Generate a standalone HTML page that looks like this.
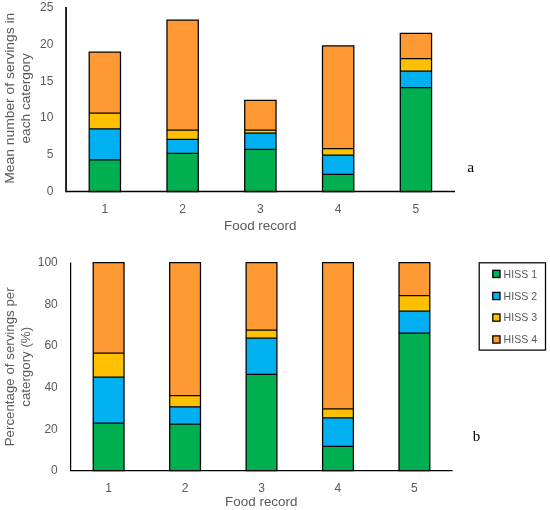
<!DOCTYPE html>
<html lang="en"><head><meta charset="utf-8"><title>Food record charts</title>
<style>
html,body{margin:0;padding:0;background:#fff;}
body{width:550px;height:510px;overflow:hidden;}
svg{display:block;}
text{font-family:"Liberation Sans",Arial,sans-serif;fill:#595959;}
.tk{font-size:12px;}
.tt{font-size:12.8px;}
.lg{font-size:11px;}
.sf{font-family:"Liberation Serif","Times New Roman",serif;font-size:14.5px;fill:#000;}
</style></head><body>
<svg width="550" height="510" viewBox="0 0 550 510">
<rect width="550" height="510" fill="#fff"/>
<rect x="89.20" y="52.20" width="31.30" height="60.80" fill="#FF9933"/>
<rect x="89.20" y="113.00" width="31.30" height="15.80" fill="#FFC000"/>
<rect x="89.20" y="128.80" width="31.30" height="31.00" fill="#00B0F0"/>
<rect x="89.20" y="159.80" width="31.30" height="31.70" fill="#00B050"/>
<path d="M89.20 52.20h31.30V191.50h-31.30ZM89.20 113.00h31.30M89.20 128.80h31.30M89.20 159.80h31.30" fill="none" stroke="#000" stroke-width="1.25" stroke-linejoin="miter"/>
<rect x="166.97" y="20.20" width="31.30" height="109.80" fill="#FF9933"/>
<rect x="166.97" y="130.00" width="31.30" height="9.40" fill="#FFC000"/>
<rect x="166.97" y="139.40" width="31.30" height="14.00" fill="#00B0F0"/>
<rect x="166.97" y="153.40" width="31.30" height="38.10" fill="#00B050"/>
<path d="M166.97 20.20h31.30V191.50h-31.30ZM166.97 130.00h31.30M166.97 139.40h31.30M166.97 153.40h31.30" fill="none" stroke="#000" stroke-width="1.25" stroke-linejoin="miter"/>
<rect x="244.74" y="100.40" width="31.30" height="29.60" fill="#FF9933"/>
<rect x="244.74" y="130.00" width="31.30" height="3.20" fill="#FFC000"/>
<rect x="244.74" y="133.20" width="31.30" height="16.20" fill="#00B0F0"/>
<rect x="244.74" y="149.40" width="31.30" height="42.10" fill="#00B050"/>
<path d="M244.74 100.40h31.30V191.50h-31.30ZM244.74 130.00h31.30M244.74 133.20h31.30M244.74 149.40h31.30" fill="none" stroke="#000" stroke-width="1.25" stroke-linejoin="miter"/>
<rect x="322.51" y="45.90" width="31.30" height="102.70" fill="#FF9933"/>
<rect x="322.51" y="148.60" width="31.30" height="6.40" fill="#FFC000"/>
<rect x="322.51" y="155.00" width="31.30" height="19.40" fill="#00B0F0"/>
<rect x="322.51" y="174.40" width="31.30" height="17.10" fill="#00B050"/>
<path d="M322.51 45.90h31.30V191.50h-31.30ZM322.51 148.60h31.30M322.51 155.00h31.30M322.51 174.40h31.30" fill="none" stroke="#000" stroke-width="1.25" stroke-linejoin="miter"/>
<rect x="400.28" y="33.40" width="31.30" height="25.30" fill="#FF9933"/>
<rect x="400.28" y="58.70" width="31.30" height="12.50" fill="#FFC000"/>
<rect x="400.28" y="71.20" width="31.30" height="16.30" fill="#00B0F0"/>
<rect x="400.28" y="87.50" width="31.30" height="104.00" fill="#00B050"/>
<path d="M400.28 33.40h31.30V191.50h-31.30ZM400.28 58.70h31.30M400.28 71.20h31.30M400.28 87.50h31.30" fill="none" stroke="#000" stroke-width="1.25" stroke-linejoin="miter"/>
<path d="M66.05 7.0V192.15" fill="none" stroke="#000" stroke-width="1.7"/>
<path d="M66.05 191.5H455.0" fill="none" stroke="#000" stroke-width="1.3"/>
<text class="tk" x="53.4" y="195" text-anchor="end">0</text>
<text class="tk" x="53.4" y="158" text-anchor="end">5</text>
<text class="tk" x="53.4" y="121" text-anchor="end">10</text>
<text class="tk" x="53.4" y="85" text-anchor="end">15</text>
<text class="tk" x="53.4" y="48" text-anchor="end">20</text>
<text class="tk" x="53.4" y="11" text-anchor="end">25</text>
<text class="tk" x="104.85" y="213" text-anchor="middle">1</text>
<text class="tk" x="182.62" y="213" text-anchor="middle">2</text>
<text class="tk" x="260.39" y="213" text-anchor="middle">3</text>
<text class="tk" x="338.16" y="213" text-anchor="middle">4</text>
<text class="tk" x="415.93" y="213" text-anchor="middle">5</text>
<text class="tt" x="260.2" y="229.9" text-anchor="middle" textLength="72.4" lengthAdjust="spacingAndGlyphs">Food record</text>
<text class="tt" transform="translate(14.4 98.3) rotate(-90)" text-anchor="middle" textLength="171" lengthAdjust="spacingAndGlyphs">Mean number of servings in</text>
<text class="tt" transform="translate(30.4 98.3) rotate(-90)" text-anchor="middle" textLength="90.5" lengthAdjust="spacingAndGlyphs">each catergory</text>
<text class="sf" x="467.2" y="171.6" textLength="6.95" lengthAdjust="spacingAndGlyphs">a</text>
<rect x="93.22" y="262.65" width="30.80" height="90.55" fill="#FF9933"/>
<rect x="93.22" y="353.20" width="30.80" height="23.80" fill="#FFC000"/>
<rect x="93.22" y="377.00" width="30.80" height="46.20" fill="#00B0F0"/>
<rect x="93.22" y="423.20" width="30.80" height="47.50" fill="#00B050"/>
<path d="M93.22 262.65h30.80V470.70h-30.80ZM93.22 353.20h30.80M93.22 377.00h30.80M93.22 423.20h30.80" fill="none" stroke="#000" stroke-width="1.25" stroke-linejoin="miter"/>
<rect x="169.67" y="262.65" width="30.80" height="133.00" fill="#FF9933"/>
<rect x="169.67" y="395.65" width="30.80" height="11.25" fill="#FFC000"/>
<rect x="169.67" y="406.90" width="30.80" height="17.30" fill="#00B0F0"/>
<rect x="169.67" y="424.20" width="30.80" height="46.50" fill="#00B050"/>
<path d="M169.67 262.65h30.80V470.70h-30.80ZM169.67 395.65h30.80M169.67 406.90h30.80M169.67 424.20h30.80" fill="none" stroke="#000" stroke-width="1.25" stroke-linejoin="miter"/>
<rect x="246.12" y="262.65" width="30.80" height="67.35" fill="#FF9933"/>
<rect x="246.12" y="330.00" width="30.80" height="8.10" fill="#FFC000"/>
<rect x="246.12" y="338.10" width="30.80" height="36.30" fill="#00B0F0"/>
<rect x="246.12" y="374.40" width="30.80" height="96.30" fill="#00B050"/>
<path d="M246.12 262.65h30.80V470.70h-30.80ZM246.12 330.00h30.80M246.12 338.10h30.80M246.12 374.40h30.80" fill="none" stroke="#000" stroke-width="1.25" stroke-linejoin="miter"/>
<rect x="322.57" y="262.65" width="30.80" height="146.25" fill="#FF9933"/>
<rect x="322.57" y="408.90" width="30.80" height="8.90" fill="#FFC000"/>
<rect x="322.57" y="417.80" width="30.80" height="28.60" fill="#00B0F0"/>
<rect x="322.57" y="446.40" width="30.80" height="24.30" fill="#00B050"/>
<path d="M322.57 262.65h30.80V470.70h-30.80ZM322.57 408.90h30.80M322.57 417.80h30.80M322.57 446.40h30.80" fill="none" stroke="#000" stroke-width="1.25" stroke-linejoin="miter"/>
<rect x="399.02" y="262.65" width="30.80" height="32.95" fill="#FF9933"/>
<rect x="399.02" y="295.60" width="30.80" height="15.60" fill="#FFC000"/>
<rect x="399.02" y="311.20" width="30.80" height="21.80" fill="#00B0F0"/>
<rect x="399.02" y="333.00" width="30.80" height="137.70" fill="#00B050"/>
<path d="M399.02 262.65h30.80V470.70h-30.80ZM399.02 295.60h30.80M399.02 311.20h30.80M399.02 333.00h30.80" fill="none" stroke="#000" stroke-width="1.25" stroke-linejoin="miter"/>
<path d="M70.6 262.4V470.7H452.6" fill="none" stroke="#000" stroke-width="1.25" stroke-linecap="butt"/>
<text class="tk" x="57.8" y="474" text-anchor="end">0</text>
<text class="tk" x="57.8" y="433" text-anchor="end">20</text>
<text class="tk" x="57.8" y="391" text-anchor="end">40</text>
<text class="tk" x="57.8" y="349" text-anchor="end">60</text>
<text class="tk" x="57.8" y="308" text-anchor="end">80</text>
<text class="tk" x="57.8" y="266" text-anchor="end">100</text>
<text class="tk" x="108.60" y="492" text-anchor="middle">1</text>
<text class="tk" x="185.05" y="492" text-anchor="middle">2</text>
<text class="tk" x="261.50" y="492" text-anchor="middle">3</text>
<text class="tk" x="337.95" y="492" text-anchor="middle">4</text>
<text class="tk" x="414.40" y="492" text-anchor="middle">5</text>
<text class="tt" x="261.3" y="506.4" text-anchor="middle" textLength="72.4" lengthAdjust="spacingAndGlyphs">Food record</text>
<text class="tt" transform="translate(14.3 366.8) rotate(-90)" text-anchor="middle" textLength="159" lengthAdjust="spacingAndGlyphs">Percentage of servings per</text>
<text class="tt" transform="translate(29.6 366.8) rotate(-90)" text-anchor="middle" textLength="79.8" lengthAdjust="spacingAndGlyphs">catergory (%)</text>
<text class="sf" x="472.7" y="441.0" textLength="7.5" lengthAdjust="spacingAndGlyphs">b</text>
<rect x="479.2" y="262.8" width="66.3" height="87.3" fill="#fff" stroke="#000" stroke-width="1.25"/>
<rect x="492.8" y="270.30" width="7.2" height="7.2" fill="#00B050" stroke="#000" stroke-width="1.3"/>
<text class="lg" x="503.6" y="278" textLength="33.5" lengthAdjust="spacingAndGlyphs">HISS 1</text>
<rect x="492.8" y="292.40" width="7.2" height="7.2" fill="#00B0F0" stroke="#000" stroke-width="1.3"/>
<text class="lg" x="503.6" y="300" textLength="33.5" lengthAdjust="spacingAndGlyphs">HISS 2</text>
<rect x="492.8" y="314.00" width="7.2" height="7.2" fill="#FFC000" stroke="#000" stroke-width="1.3"/>
<text class="lg" x="503.6" y="321" textLength="33.5" lengthAdjust="spacingAndGlyphs">HISS 3</text>
<rect x="492.8" y="335.90" width="7.2" height="7.2" fill="#FF9933" stroke="#000" stroke-width="1.3"/>
<text class="lg" x="503.6" y="343" textLength="33.5" lengthAdjust="spacingAndGlyphs">HISS 4</text>
</svg>
</body></html>
